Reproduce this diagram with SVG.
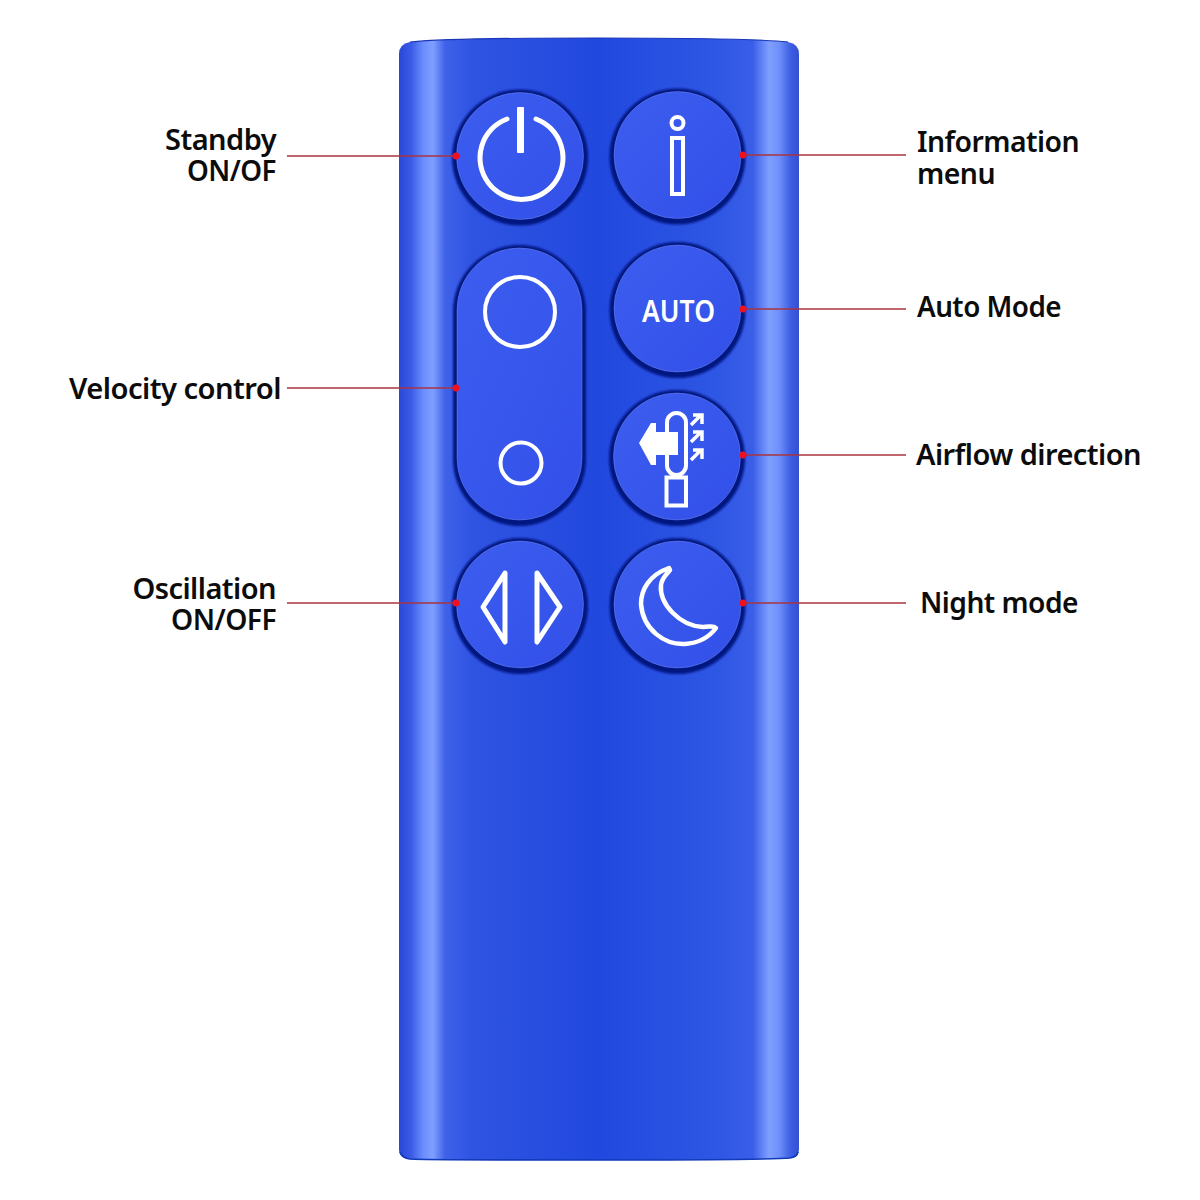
<svg xmlns="http://www.w3.org/2000/svg" width="1200" height="1200" viewBox="0 0 1200 1200">
<style>
.lbl{font-family:"Noto Sans","Open Sans","Liberation Sans",sans-serif;font-size:29px;font-weight:600;fill:#0c0c0c;letter-spacing:-.55px}
.e{text-anchor:end}
.btn{fill:url(#btn);stroke:#7f95f5;stroke-opacity:.4;stroke-width:1}
.rim{fill:#031480;filter:url(#blur)}
.ic{fill:none;stroke:#fff;stroke-width:4}
.icf{fill:#fff;stroke:none}
.ln{stroke:#a83440;stroke-width:1.6;fill:none}
.dot{fill:#f0101f}
</style>
<defs>
<linearGradient id="body" x1="0" x2="1" y1="0" y2="0">
<stop offset="0" stop-color="#2a48d8"/>
<stop offset=".03" stop-color="#3a5ae6"/>
<stop offset=".06" stop-color="#6a8dfd"/>
<stop offset=".085" stop-color="#7f9fff"/>
<stop offset=".115" stop-color="#3f62ea"/>
<stop offset=".18" stop-color="#2f54e2"/>
<stop offset=".5" stop-color="#2148de"/>
<stop offset=".8" stop-color="#2e57e4"/>
<stop offset=".885" stop-color="#3a5ee8"/>
<stop offset=".925" stop-color="#7f9fff"/>
<stop offset=".95" stop-color="#6f90fa"/>
<stop offset=".98" stop-color="#3c5ce2"/>
<stop offset="1" stop-color="#3450d0"/>
</linearGradient>
<linearGradient id="btn" x1="0" x2="1" y1="0" y2="1">
<stop offset="0" stop-color="#3d5df0"/>
<stop offset="1" stop-color="#3250e8"/>
</linearGradient>
<filter id="blur" x="-10%" y="-10%" width="120%" height="120%"><feGaussianBlur stdDeviation=".9"/></filter>
</defs>
<rect width="1200" height="1200" fill="#fff"/>
<g id="remote">
<path d="M399 54Q399 44 410 42Q450 38 598 38Q750 38 788 42Q799 44 799 54L799 1150Q799 1156 790 1158Q770 1160 598 1160Q430 1160 407 1159Q399 1157 399 1150Z" fill="url(#body)"/>
<path d="M410 42Q450 38 598 38Q750 38 788 42" fill="none" stroke="#1a37b8" stroke-width="1.2"/>
<path d="M400 1152Q402 1158 410 1159Q430 1160 598 1160Q770 1160 790 1158Q797 1157 798 1152" fill="none" stroke="#0f3ab8" stroke-width="1.6"/>
</g>
<g id="standby">
<circle class="rim" cx="520" cy="157.500" r="68"/>
<circle class="btn" cx="520" cy="156" r="63.500"/>
<path class="ic" style="stroke-width:5;stroke-linecap:round" d="M507 119A41.500 41.500 0 1 0 536 119"/>
<rect class="icf" x="517" y="107" width="7" height="46" rx="1"/>
</g>
<g id="information">
<circle class="rim" cx="677.500" cy="156.500" r="68"/>
<circle class="btn" cx="677.500" cy="155" r="63.500"/>
<circle class="ic" cx="677.500" cy="123" r="6"/>
<rect class="ic" x="672" y="138" width="11" height="56"/>
</g>
<g id="velocity">
<rect class="rim" x="453" y="245" width="133" height="281" rx="66.500" ry="66.500"/>
<rect class="btn" x="457" y="248" width="125" height="272" rx="62" ry="62"/>
<circle class="ic" cx="520" cy="312" r="35"/>
<circle class="ic" cx="521" cy="463" r="20.500"/>
</g>
<g id="auto">
<circle class="rim" cx="677.500" cy="310" r="68"/>
<circle class="btn" cx="677.500" cy="308.500" r="63.500"/>
<text x="642" y="322" textLength="73" lengthAdjust="spacingAndGlyphs" style="font-family:'Noto Sans','Liberation Sans',sans-serif;font-size:30px;font-weight:600;fill:#fff">AUTO</text>
</g>
<g id="airflow">
<circle class="rim" cx="677" cy="458" r="68"/>
<circle class="btn" cx="677" cy="456.500" r="63.500"/>
<rect class="ic" x="667" y="413" width="19" height="62" rx="9.500"/>
<rect class="ic" x="666.500" y="477.500" width="19.500" height="28"/>
<path class="icf" d="M639 443L651 423L656 423L656 432L678 432L678 455L656 455L656 465L651 465Z"/>
<path class="ic" style="stroke-width:3.500" d="M691 425L701 415M693 415H702V424M691 442L701 432M693 432H702V441M691 460L701 450M693 450H702V459"/>
</g>
<g id="oscillation">
<circle class="rim" cx="520" cy="606" r="68"/>
<circle class="btn" cx="520" cy="604.500" r="63.500"/>
<path class="ic" stroke-linejoin="round" style="stroke-width:5" d="M505 573L483 607L505 642Z"/>
<path class="ic" stroke-linejoin="round" style="stroke-width:5" d="M537 573L560 607L537 642Z"/>
</g>
<g id="night">
<circle class="rim" cx="677.500" cy="606" r="68"/>
<circle class="btn" cx="677.500" cy="604.500" r="63.500"/>
<path class="ic" stroke-linejoin="round" style="stroke-width:4.500" d="M669 568C649 575 641 590 641 604C643 630 665 645 685 644C700 643 710 636 716 628C713 625 710 627 703 627C680 626 659 604 661 585C662 577 668 573 670 570Z"/>
</g>
<g id="connectors">
<path class="ln" d="M287 156H456M287 388H456M287 603H456M743 155H906M743 309H906M743 455H906M743 603H906"/>
<circle class="dot" cx="456" cy="156" r="3.500"/>
<circle class="dot" cx="456" cy="388" r="3.500"/>
<circle class="dot" cx="456" cy="603" r="3.500"/>
<circle class="dot" cx="743" cy="155" r="3.500"/>
<circle class="dot" cx="743" cy="309" r="3.500"/>
<circle class="dot" cx="743" cy="455" r="3.500"/>
<circle class="dot" cx="743" cy="603" r="3.500"/>
</g>
<g id="labels">
<text class="lbl e" x="276" y="150">Standby</text>
<text class="lbl e" x="276" y="181" textLength="89" lengthAdjust="spacingAndGlyphs">ON/OF</text>
<text class="lbl e" x="281" y="399" textLength="212" lengthAdjust="spacingAndGlyphs">Velocity control</text>
<text class="lbl e" x="276" y="599">Oscillation</text>
<text class="lbl e" x="276" y="630" textLength="105" lengthAdjust="spacingAndGlyphs">ON/OFF</text>
<text class="lbl" x="917" y="152" textLength="162" lengthAdjust="spacingAndGlyphs">Information</text>
<text class="lbl" x="917" y="184" textLength="78" lengthAdjust="spacingAndGlyphs">menu</text>
<text class="lbl" x="917" y="317" textLength="144" lengthAdjust="spacingAndGlyphs">Auto Mode</text>
<text class="lbl" x="916" y="465" textLength="225" lengthAdjust="spacingAndGlyphs">Airflow direction</text>
<text class="lbl" x="920" y="613" textLength="158" lengthAdjust="spacingAndGlyphs">Night mode</text>
</g>
</svg>
